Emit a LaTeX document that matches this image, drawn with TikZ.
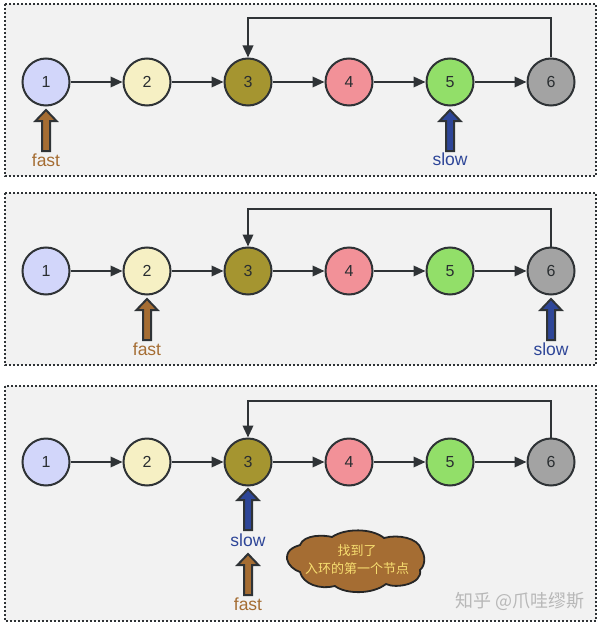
\documentclass[tikz,border=0pt]{standalone}
\usepackage{fontspec}
\setmainfont{Liberation Sans}
\newfontfamily\cjk{Noto Sans CJK SC}
\usetikzlibrary{arrows.meta,calc}
\definecolor{ln}{HTML}{2F3336}
\definecolor{pfill}{HTML}{F2F2F2}
\definecolor{cA}{HTML}{D2D6FA}
\definecolor{cB}{HTML}{F6F0C4}
\definecolor{cC}{HTML}{A59530}
\definecolor{cD}{HTML}{F29198}
\definecolor{cE}{HTML}{92DF69}
\definecolor{cF}{HTML}{A3A3A3}
\definecolor{fastc}{HTML}{A56D33}
\definecolor{slowc}{HTML}{2E4698}
\definecolor{cloudtxt}{HTML}{F7DE70}
\tikzset{x=1pt,y=-1pt,
 panel/.style={draw=ln,fill=pfill,line width=1.7pt,dash pattern=on 1.7pt off 2.3pt},
 lnode/.style={circle,draw=ln,line width=2pt,minimum size=47pt,inner sep=0pt,font=\fontsize{16}{18}\selectfont,text=ln!90!black},
 conn/.style={draw=ln,line width=2pt,-{Triangle[length=12pt,width=10.5pt]}},
 blockarrow/.style={draw=ln,line width=2pt,line join=miter},
 ptr/.style={inner sep=0pt,font=\fontsize{17.5}{20}\selectfont}
}
\newcommand{\listrow}[3]{%
 \node[lnode,fill=cA] (#1a) at (46,#2) {1};
 \node[lnode,fill=cB] (#1b) at (147,#2) {2};
 \node[lnode,fill=cC] (#1c) at (248,#2) {3};
 \node[lnode,fill=cD] (#1d) at (349,#2) {4};
 \node[lnode,fill=cE] (#1e) at (450,#2) {5};
 \node[lnode,fill=cF] (#1f) at (551,#2) {6};
 \draw[conn] (#1a) -- (#1b);
 \draw[conn] (#1b) -- (#1c);
 \draw[conn] (#1c) -- (#1d);
 \draw[conn] (#1d) -- (#1e);
 \draw[conn] (#1e) -- (#1f);
 \coordinate (#1t) at (551,#3);
 \draw[conn] (#1f.north) -- (#1t) -| (#1c.north);
}
\newcommand{\blockarr}[4]{% x, tip y, bottom y, colour
 \draw[blockarrow,fill=#4] (#1,#2) -- (#1+10.5,#2+11) -- (#1+4,#2+11) -- (#1+4,#3) -- (#1-4,#3) -- (#1-4,#2+11) -- (#1-10.5,#2+11) -- cycle;
}
\begin{document}
\begin{tikzpicture}
\useasboundingbox (0,0) rectangle (600,626);
\fill[white] (0,0) rectangle (600,626);
\draw[panel] (5,4) rectangle (596,176);
\draw[panel] (5,193) rectangle (596,365);
\draw[panel] (5,386) rectangle (596,621);
\listrow{p}{82}{18}
\listrow{q}{271}{209}
\listrow{r}{462}{401}
% pointers, row 1
\blockarr{46}{110}{151}{fastc}
\node[ptr,text=fastc] (f1) at (46,160) {fast};
\blockarr{450}{110}{151}{slowc}
\node[ptr,text=slowc] (s1) at (450,159) {slow};
% row 2
\blockarr{147}{299}{340}{fastc}
\node[ptr,text=fastc] (f2) at (147,349) {fast};
\blockarr{551}{299}{340}{slowc}
\node[ptr,text=slowc] (s2) at (551,349) {slow};
% row 3
\blockarr{248}{489}{530}{slowc}
\node[ptr,text=slowc] (s3) at (248,540) {slow};
\blockarr{248}{554}{595}{fastc}
\node[ptr,text=fastc] (f3) at (248,604) {fast};
% cloud
\draw[draw=black!85,line width=1.8pt,fill=fastc]
 (287,559) .. controls (286,548) and (298,546) .. (300,545)
 .. controls (304,534) and (325,535) .. (332,537)
 .. controls (345,528) and (372,528) .. (384,538)
 .. controls (398,534) and (418,538) .. (421,549)
 .. controls (426,556) and (425,566) .. (420,570)
 .. controls (423,584) and (396,589) .. (386,584)
 .. controls (372,595) and (345,594) .. (335,586)
 .. controls (320,590) and (303,584) .. (300,572)
 .. controls (294,570) and (288,565) .. (287,559) -- cycle;
\node[inner sep=0pt,align=center,text=cloudtxt,font=\cjk\fontsize{13}{18}\selectfont] (msg) at (357,560) {找到了\\入环的第一个节点};
\node[inner sep=0pt,text=black!28,font=\cjk\fontsize{18}{20}\selectfont] (wm) at (520,601) {知乎 @爪哇缪斯};
\end{tikzpicture}
\end{document}
